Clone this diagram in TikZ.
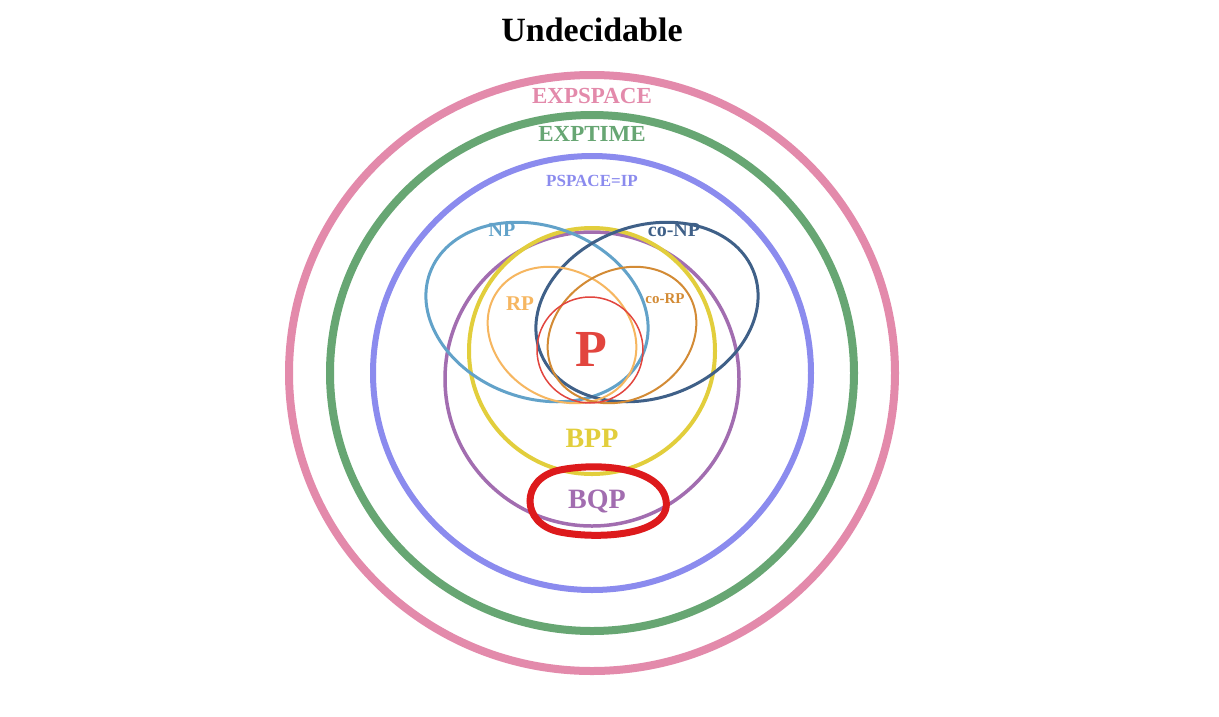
\documentclass[tikz,border=0pt]{standalone}
\usepackage{fontspec}
\setmainfont{Liberation Serif}
\definecolor{cpink}{HTML}{E38AAB}
\definecolor{cgreen}{HTML}{67A673}
\definecolor{cblue}{HTML}{8B8BEE}
\definecolor{cpurple}{HTML}{A26DB0}
\definecolor{cyellow}{HTML}{E2CE3C}
\definecolor{cnp}{HTML}{62A2C9}
\definecolor{cconp}{HTML}{3F6088}
\definecolor{crp}{HTML}{F6B660}
\definecolor{ccorp}{HTML}{D38B35}
\definecolor{cp}{HTML}{E2453E}
\definecolor{cred}{HTML}{DD1A1C}
\tikzset{lbl/.style={font=\bfseries\fontsize{#1}{#1}\selectfont, inner sep=0pt}}
\begin{document}
\begin{tikzpicture}[x=1pt,y=-1pt]
\useasboundingbox (0,0) rectangle (1219,716);
\fill[white] (0,0) rectangle (1219,716);
\draw[cpink,line width=8] (592,373) ellipse (303 and 298);
\draw[cgreen,line width=8] (592,373) ellipse (262 and 258);
\draw[cblue,line width=6] (592,373) ellipse (219 and 217);
\draw[cpurple,line width=3.5] (592,379) circle (147);
\draw[cyellow,line width=4] (592,351) circle (123);
\draw[cnp,line width=3,rotate around={-20:(537,312)}] (537,312) ellipse (114 and 86);
\draw[cconp,line width=3,rotate around={20:(647,312)}] (647,312) ellipse (114 and 86);
\draw[crp,line width=2,rotate around={-32:(562,335)}] (562,335) ellipse (78 and 64);
\draw[ccorp,line width=2,rotate around={32:(622,335)}] (622,335) ellipse (78 and 64);
\draw[cp,line width=1.5] (590,350) circle (53);
\draw[cred,line width=7,line cap=round] (560,470) .. controls (600,462) and (660,468) .. (666,500) .. controls (672,535) and (600,540) .. (560,532) .. controls (520,524) and (520,478) .. (560,470);
\node[lbl=34] (und) at (592,30) {Undecidable};
\node[lbl=23,text=cpink] (es) at (592,96) {EXPSPACE};
\node[lbl=23,text=cgreen] (et) at (592,134) {EXPTIME};
\node[lbl=17,text=cblue] (ps) at (592,181) {PSPACE=IP};
\node[lbl=20,text=cnp] (np) at (502,230) {NP};
\node[lbl=20,text=cconp] (conp) at (674,230) {co-NP};
\node[lbl=21,text=crp] (rp) at (520,304) {RP};
\node[lbl=15,text=ccorp] (corp) at (665,299) {co-RP};
\node[lbl=52,text=cp] (p) at (591,349) {P};
\node[lbl=28,text=cyellow] (bpp) at (592,438) {BPP};
\node[lbl=28,text=cpurple] (bqp) at (597,501) {BQP};
\end{tikzpicture}
\end{document}
